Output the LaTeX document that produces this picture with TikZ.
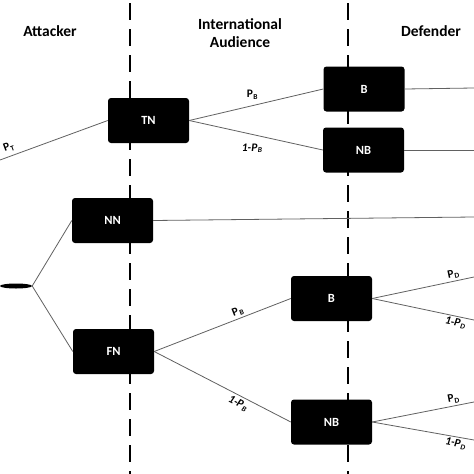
\documentclass[tikz,border=0pt]{standalone}
\usepackage{fontspec}
\setmainfont{Carlito}
\usetikzlibrary{shapes.geometric}
\newcommand{\subl}[1]{\kern0.5pt\raisebox{-0.3ex}{\fontsize{7.5}{7.5}\selectfont #1}}
\begin{document}
\begin{tikzpicture}[x=1pt,y=-1pt,
  box/.style={fill=black,rounded corners=3pt,minimum width=81pt,minimum height=45pt,inner sep=0pt,text=white,font=\bfseries\fontsize{12.5}{12.5}\selectfont},
  edge/.style={draw=black!62,line width=0.8pt},
  divider/.style={line width=2.4pt,dash pattern=on 17pt off 9pt},
  head/.style={font=\bfseries\fontsize{15.5}{18}\selectfont,align=center},
  lab/.style={font=\bfseries\fontsize{11.5}{11.5}\selectfont,inner sep=1pt}]
\useasboundingbox (0,0) rectangle (474,474);
\fill[white] (0,0) rectangle (474,474);
% dividers
\draw[divider] (130,3) -- (130,474);
\draw[divider] (348,3) -- (348,474);
% headers
\node[head] (hA) at (50,31) {Attacker};
\node[head] (hI) at (240,33) {International\\Audience};
\node[head] (hD) at (431,31) {Defender};
% boxes
\node[box] (TN) at (148.5,120.5) {TN};
\node[box] (B1) at (364,89) {B};
\node[box] (NB1) at (363.5,150) {NB};
\node[box] (NN) at (112.5,220.5) {NN};
\node[box] (FN) at (113.5,351.5) {FN};
\node[box] (B2) at (331.5,298.5) {B};
\node[box] (NB2) at (331.5,422) {NB};
% chance node
\node[ellipse,fill=black,minimum width=32pt,minimum height=5pt,inner sep=0pt] (root) at (16,286) {};
% free ends
\coordinate (eT) at (0,160);
\coordinate (eB1) at (474,88);
\coordinate (eNB1) at (474,150);
\coordinate (eNN) at (474,217);
\coordinate (eB2a) at (474,277);
\coordinate (eB2b) at (474,320);
\coordinate (eNB2a) at (474,402);
\coordinate (eNB2b) at (474,440);
% edges
\draw[edge] (eT) -- node[lab,pos=0.11,above=3pt,sloped] {P\subl{T}} (TN.west);
\draw[edge] (TN.east) -- node[lab,pos=0.47,above=5pt] {P\subl{B}} (B1.west);
\draw[edge] (TN.east) -- node[lab,pos=0.47,below=8pt] {\itshape 1-P\subl{B}} (NB1.west);
\draw[edge] (B1.east) -- (eB1);
\draw[edge] (NB1.east) -- (eNB1);
\draw[edge] (root.east) -- (NN.west);
\draw[edge] (root.east) -- (FN.west);
\draw[edge] (NN.east) -- (eNN);
\draw[edge] (FN.east) -- node[lab,pos=0.63,above=1pt,sloped] {P\subl{B}} (B2.west);
\draw[edge] (FN.east) -- node[lab,pos=0.64,below=2pt,sloped] {\itshape 1-P\subl{B}} (NB2.west);
\draw[edge] (B2.east) -- node[lab,pos=0.81,above=1pt,sloped] {P\subl{D}} (eB2a);
\draw[edge] (B2.east) -- node[lab,pos=0.83,below=1pt,sloped] {\itshape 1-P\subl{D}} (eB2b);
\draw[edge] (NB2.east) -- node[lab,pos=0.81,above=1pt,sloped] {P\subl{D}} (eNB2a);
\draw[edge] (NB2.east) -- node[lab,pos=0.83,below=1pt,sloped] {\itshape 1-P\subl{D}} (eNB2b);
\end{tikzpicture}
\end{document}
